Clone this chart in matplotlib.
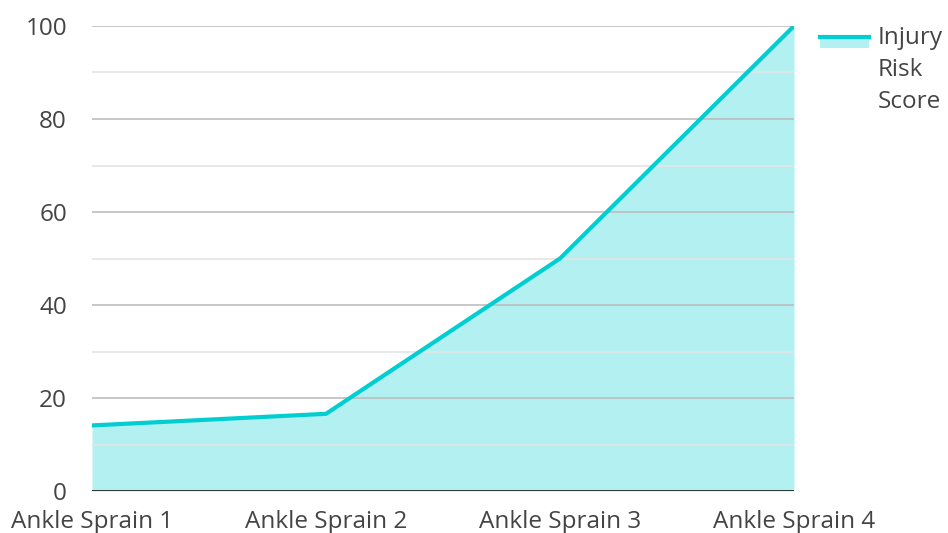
import matplotlib.pyplot as plt
from matplotlib.lines import Line2D
from matplotlib.patches import Rectangle

categories = ["Ankle Sprain 1", "Ankle Sprain 2", "Ankle Sprain 3", "Ankle Sprain 4"]
risk_score = [14.1, 16.6, 50, 100]
series_name = "Injury\nRisk\nScore"

line_color = "#00CED1"
fill_color = "#00CED1"
text_color = "#444444"

plt.rcParams['font.family'] = ['Open Sans', 'DejaVu Sans']

W, H = 948, 533
fig = plt.figure(figsize=(W / 100, H / 100), dpi=100)
ax = fig.add_axes([92 / W, 1 - 491 / H, (794 - 92) / W, (491 - 26) / H])

x = list(range(len(categories)))
ax.fill_between(x, risk_score, 0, color=fill_color, alpha=0.3, linewidth=0, zorder=1)
ax.plot(x, risk_score, color=line_color, linewidth=3, zorder=3)

# 网格线
for v in range(20, 101, 20):
    ax.axhline(v, color="#bdbdbd", linewidth=1.2, zorder=2)
for v in range(10, 100, 20):
    ax.axhline(v, color="#e4e4e4", linewidth=1.2, zorder=2)
ax.axhline(0, color="#222222", linewidth=2, zorder=4)

ax.set_xlim(0, 3)
ax.set_ylim(0, 100)
ax.set_yticks(range(0, 101, 20))
ax.set_xticks(x)
ax.set_xticklabels(categories)
ax.tick_params(axis='both', length=0, labelsize=17.5, labelcolor=text_color)
ax.tick_params(axis='y', pad=18)
ax.tick_params(axis='x', pad=14)
for s in ax.spines.values():
    s.set_visible(False)

# 图例（手动画）：上面一条线，下面一块填充
fig.patches.append(Rectangle((820 / W, 1 - 48 / H), 49 / W, 11 / H, transform=fig.transFigure,
                             facecolor=fill_color, alpha=0.3, linewidth=0))
fig.lines.append(Line2D([820 / W, 869 / W], [1 - 37 / H, 1 - 37 / H], transform=fig.transFigure,
                        color=line_color, linewidth=3))
fig.text(878 / W, 1 - 26 / H, series_name, ha='left', va='top', fontsize=17.5,
         color=text_color, linespacing=1.45)

fig.savefig("out.png", dpi=100)
